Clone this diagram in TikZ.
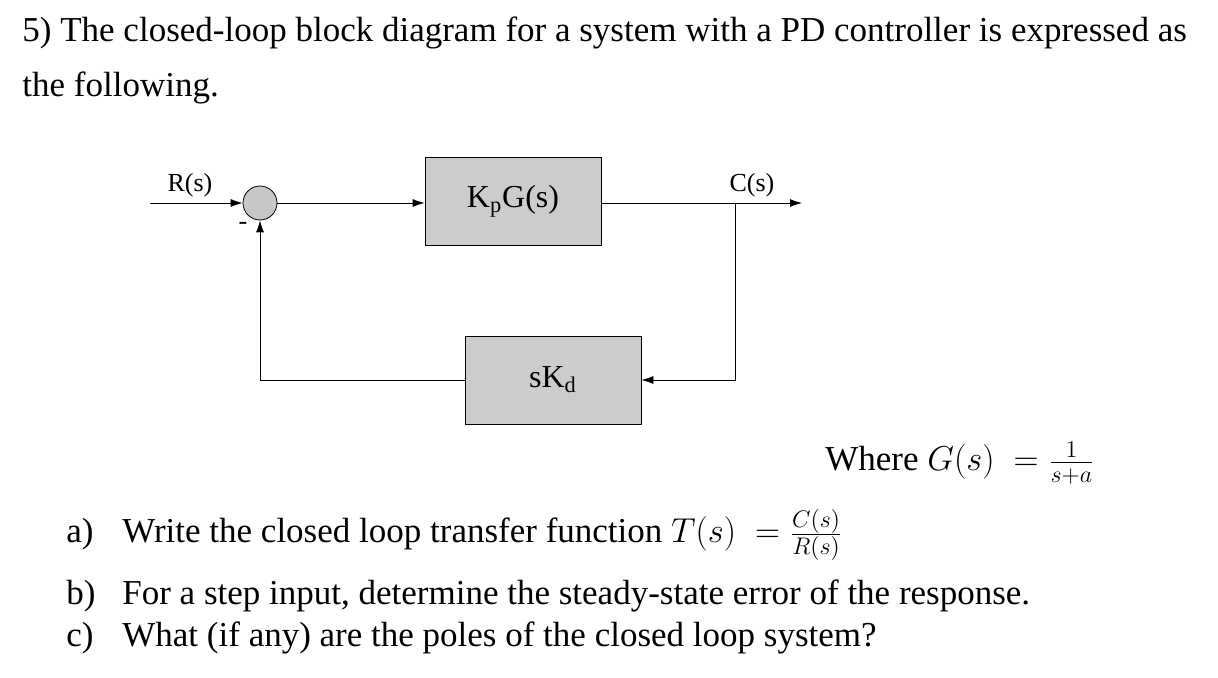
\documentclass[tikz,border=0pt]{standalone}
\usepackage{fontspec}
\setmainfont{Liberation Serif}
\usetikzlibrary{positioning,arrows.meta}
\tikzstyle{line}=[draw,-{Latex[length=6pt,width=4pt]}]
\tikzstyle{block}=[draw,fill=black!20,minimum width=88pt,minimum height=44pt,font=\fontsize{16}{19}\selectfont]
\tikzstyle{sum}=[circle,draw,fill=black!22,minimum size=17pt,inner sep=0pt]
\tikzstyle{txt}=[anchor=west,inner sep=0pt,font=\fontsize{17.5}{21}\selectfont]
\tikzstyle{lbl}=[font=\fontsize{13}{15}\selectfont,inner sep=0pt]
\newcommand{\itm}[1]{\makebox[1.6em][l]{#1}}
\begin{document}
\begin{tikzpicture}[x=0.5pt,y=-0.5pt]
\useasboundingbox (0,0) rectangle (1218,678);
% question text
\node [txt] (q1) at (22,33) {5) The closed-loop block diagram for a system with a PD controller is expressed as};
\node [txt] (q2) at (22,88) {the following.};

% loop
\node [sum] (s) at (260,203) {};
\node [block] (g) at (513,201) {K\textsubscript{p}G(s)};
\node [block] (h) at (553,380) {sK\textsubscript{d}};
\coordinate (in) at (150,203);
\coordinate (out) at (802,203);
\coordinate (br) at (735,203);
\node [lbl] (r) at (190,185) {R(s)};
\node [lbl] (c) at (752,185) {C(s)};
\node [lbl] (m) at (243,226) {-};

\draw[line] (in) -- (s);
\draw[line] (s) -- (g.west |- s);
\draw[line] (g.east |- s) -- (out);
\draw[line] (br) |- (h.east);
\draw[line] (h.west) -| (s.south);

% questions
\node [txt] (w) at (825,463) {Where $G(s)\;=\frac{1}{s+a}$};
\node [txt] (qa) at (66,535) {\itm{a)}Write the closed loop transfer function $T(s)\;=\frac{C(s)}{R(s)}$};
\node [txt] (qb) at (66,596) {\itm{b)}For a step input, determine the steady-state error of the response.};
\node [txt] (qc) at (66,638) {\itm{c)}What (if any) are the poles of the closed loop system?};
\end{tikzpicture}
\end{document}
